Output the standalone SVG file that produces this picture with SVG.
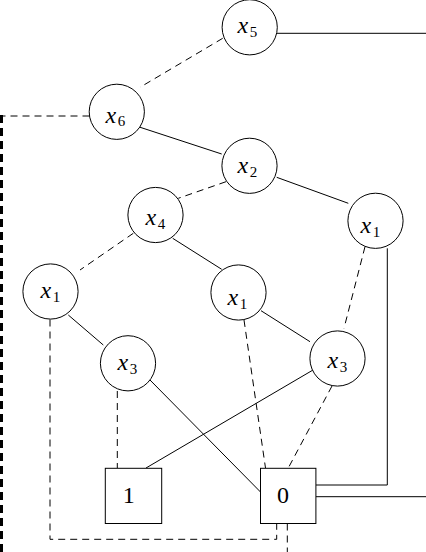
<svg xmlns="http://www.w3.org/2000/svg" width="426" height="552" viewBox="0 0 426 552">
<style>
.node circle, .node rect { fill: #fff; stroke: #000; stroke-width: 1; }
.lbl { font-family: "Liberation Serif", serif; font-size: 24px; font-style: italic; fill: #000; }
.sub { font-style: normal; font-size: 15px; }
.term { font-family: "Liberation Serif", serif; font-size: 24px; fill: #000; text-anchor: middle; }
.solid { fill: none; stroke: #000; stroke-width: 1; }
.dash { fill: none; stroke: #000; stroke-width: 1; stroke-dasharray: 7 5; }
.thick { fill: none; stroke: #000; stroke-width: 3; stroke-dasharray: 8 5; }
</style>
<rect width="426" height="552" fill="#fff"/>
<g id="connectors">
  <line class="solid" x1="277" y1="33.3" x2="426" y2="33.3"/>
  <line class="dash" x1="222.7" y1="38.3" x2="140" y2="87.3"/>
  <line class="solid" x1="138.3" y1="126.7" x2="221.7" y2="154"/>
  <line class="dash" x1="89.5" y1="116" x2="3" y2="116"/>
  <line class="thick" x1="1.5" y1="115" x2="1.5" y2="552"/>
  <line class="dash" x1="226" y1="181.7" x2="178.3" y2="198.3"/>
  <line class="solid" x1="276.7" y1="177.3" x2="348.3" y2="203.3"/>
  <line class="dash" x1="133.3" y1="233.3" x2="80" y2="270"/>
  <line class="solid" x1="172.7" y1="238.3" x2="221.7" y2="269.3"/>
  <line class="dash" x1="365" y1="246.7" x2="344" y2="328.3"/>
  <polyline class="solid" points="387.3,248.3 387.3,485 316,485"/>
  <line class="solid" x1="316" y1="496.7" x2="426" y2="496.7"/>
  <line class="solid" x1="68.3" y1="315" x2="103.3" y2="345"/>
  <polyline class="dash" points="50,319.5 50,539.3 276.7,539.3 276.7,523.5"/>
  <line class="dash" x1="244" y1="320" x2="265.5" y2="468"/>
  <line class="solid" x1="261" y1="310.7" x2="310" y2="341.7"/>
  <line class="solid" x1="313" y1="370" x2="146" y2="468"/>
  <line class="dash" x1="332" y1="386" x2="288.3" y2="468"/>
  <line class="dash" x1="117.3" y1="391" x2="117.3" y2="468"/>
  <line class="solid" x1="150" y1="380" x2="260.5" y2="492"/>
  <line class="dash" x1="287.3" y1="523.5" x2="287.3" y2="552"/>
</g>
<g id="n_x5" class="node"><circle cx="249.7" cy="27.3" r="27.6"/><text class="lbl" x="237.5" y="33">x<tspan class="sub" dx="1.5" dy="4">5</tspan></text></g>
<g id="n_x6" class="node"><circle cx="116.8" cy="111.8" r="27.6"/><text class="lbl" x="105.5" y="123">x<tspan class="sub" dx="1.5" dy="3">6</tspan></text></g>
<g id="n_x2" class="node"><circle cx="249.5" cy="165.8" r="27.6"/><text class="lbl" x="237.5" y="172.7">x<tspan class="sub" dx="1.5" dy="4">2</tspan></text></g>
<g id="n_x4" class="node"><circle cx="155.5" cy="215" r="27.6"/><text class="lbl" x="145.5" y="225">x<tspan class="sub" dx="1.5" dy="4">4</tspan></text></g>
<g id="n_x1r" class="node"><circle cx="375.5" cy="220.8" r="27.6"/><text class="lbl" x="360.5" y="232.7">x<tspan class="sub" dx="1.5" dy="4">1</tspan></text></g>
<g id="n_x1l" class="node"><circle cx="50.5" cy="291.5" r="27.6"/><text class="lbl" x="40.5" y="298">x<tspan class="sub" dx="1.5" dy="4">1</tspan></text></g>
<g id="n_x1m" class="node"><circle cx="238.5" cy="292.5" r="27.6"/><text class="lbl" x="227.5" y="305">x<tspan class="sub" dx="1.5" dy="4">1</tspan></text></g>
<g id="n_x3l" class="node"><circle cx="128" cy="363.3" r="27.6"/><text class="lbl" x="117.5" y="370">x<tspan class="sub" dx="1.5" dy="4">3</tspan></text></g>
<g id="n_x3r" class="node"><circle cx="337.5" cy="358.5" r="27.6"/><text class="lbl" x="327.5" y="368">x<tspan class="sub" dx="1.5" dy="4">3</tspan></text></g>
<g id="n_one" class="node"><rect x="105.3" y="468.3" width="56.4" height="55.2"/><text class="term" x="128.8" y="503">1</text></g>
<g id="n_zero" class="node"><rect x="260.5" y="468.3" width="55.4" height="55.2"/><text class="term" x="283" y="503">0</text></g>
</svg>
